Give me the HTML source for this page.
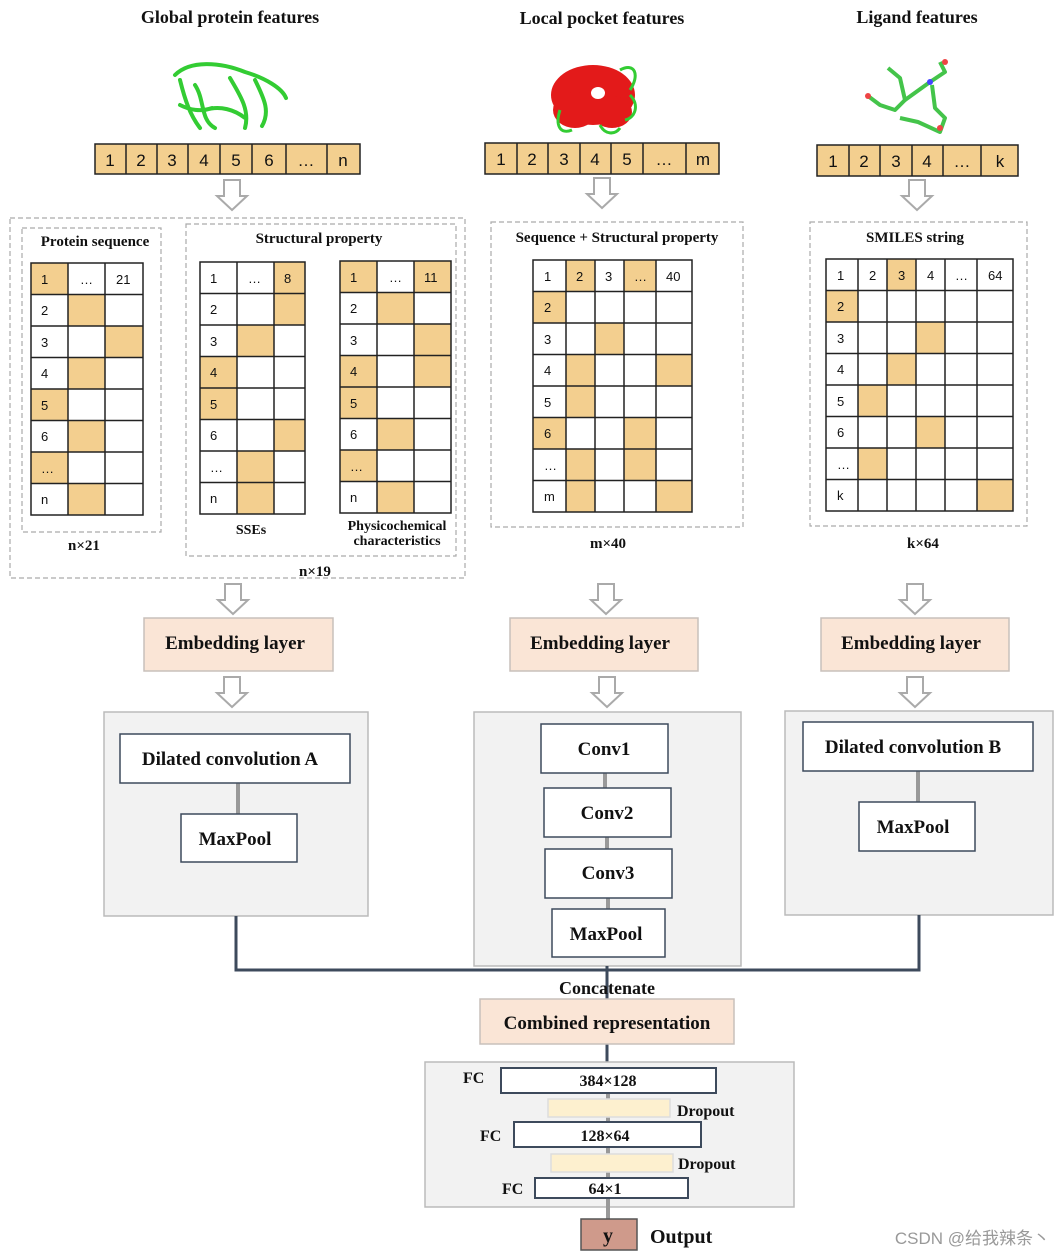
<!DOCTYPE html>
<html><head><meta charset="utf-8"><style>
html,body{margin:0;padding:0;background:#fff}
svg{display:block}
.t{font-family:"Liberation Serif",serif;font-weight:bold;fill:#111}
.n{font-family:"Liberation Sans",sans-serif;fill:#111}
</style></head><body>
<svg width="1063" height="1256" viewBox="0 0 1063 1256" xmlns="http://www.w3.org/2000/svg">
<defs>
<path id="arr" d="M-8,0 L8,0 L8,16 L15,16 L0,30 L-15,16 L-8,16 Z" fill="#fff" stroke="#aaa" stroke-width="2"/>
</defs>
<!-- titles -->
<text class="t" x="230" y="23" font-size="18" text-anchor="middle">Global protein features</text>
<text class="t" x="602" y="24" font-size="18" text-anchor="middle">Local pocket features</text>
<text class="t" x="917" y="23" font-size="18" text-anchor="middle">Ligand features</text>

<!-- protein images -->
<g fill="none" stroke="#33cc33" stroke-width="4" stroke-linecap="round">
<path d="M175,75 C190,60 220,62 245,72 C265,78 282,88 286,98"/>
<path d="M180,80 C185,100 190,115 200,128 M195,85 C205,100 200,120 215,128 M230,78 C240,95 250,110 245,128 M255,80 C265,100 270,112 262,126 M205,110 C220,105 235,110 245,118 M180,105 C190,110 200,112 212,108"/>
</g>
<g fill="#e31a1a">
<ellipse cx="593" cy="95" rx="42" ry="30"/>
<ellipse cx="575" cy="110" rx="22" ry="18"/>
<ellipse cx="612" cy="112" rx="20" ry="16"/>
</g>
<ellipse cx="598" cy="93" rx="7" ry="6" fill="#fff"/>
<g fill="none" stroke="#33cc33" stroke-width="3">
<path d="M560,110 C555,125 560,135 572,130 M620,70 C635,62 640,75 630,90 M600,125 C605,135 615,135 620,128 M630,95 C640,105 635,118 625,120"/>
</g>
<g fill="none" stroke="#44c44a" stroke-width="4" stroke-linejoin="round">
<path d="M888,68 L900,78 L905,100 L930,82 L945,72 L940,62"/>
<path d="M905,100 L895,110 L880,105 L868,96"/>
<path d="M932,85 L935,108 L945,118 L940,132 L918,122 L900,118"/>
</g>
<circle cx="868" cy="96" r="3" fill="#e44"/><circle cx="930" cy="82" r="3" fill="#44f"/><circle cx="940" cy="128" r="3" fill="#e44"/><circle cx="945" cy="62" r="3" fill="#e44"/>

<!-- top sequence boxes -->
<g fill="#f3cf8f" stroke="#222" stroke-width="1.5">
<rect x="95" y="144" width="265" height="30"/>
<rect x="485" y="143" width="234" height="31"/>
<rect x="817" y="145" width="201" height="31"/>
</g>
<g stroke="#222" stroke-width="1.5">
<path d="M126,144V174M157,144V174M188,144V174M220,144V174M252,144V174M286,144V174M327,144V174"/>
<path d="M517,143V174M548,143V174M580,143V174M611,143V174M643,143V174M686,143V174"/>
<path d="M849,145V176M880,145V176M912,145V176M943,145V176M981,145V176"/>
</g>
<g class="n" font-size="17" text-anchor="middle">
<text x="110" y="166">1</text><text x="141" y="166">2</text><text x="172" y="166">3</text><text x="204" y="166">4</text><text x="236" y="166">5</text><text x="269" y="166">6</text><text x="306" y="166">…</text><text x="343" y="166">n</text>
<text x="501" y="165">1</text><text x="532" y="165">2</text><text x="564" y="165">3</text><text x="595" y="165">4</text><text x="627" y="165">5</text><text x="664" y="165">…</text><text x="703" y="165">m</text>
<text x="833" y="167">1</text><text x="864" y="167">2</text><text x="896" y="167">3</text><text x="927" y="167">4</text><text x="962" y="167">…</text><text x="1000" y="167">k</text>
</g>

<!-- arrows -->
<use href="#arr" x="232" y="180"/><use href="#arr" x="602" y="178"/><use href="#arr" x="917" y="180"/>
<use href="#arr" x="233" y="584"/><use href="#arr" x="606" y="584"/><use href="#arr" x="915" y="584"/>
<use href="#arr" x="232" y="677"/><use href="#arr" x="607" y="677"/><use href="#arr" x="915" y="677"/>

<!-- dashed boxes -->
<g fill="none" stroke="#aaa" stroke-width="1.2" stroke-dasharray="5,3">
<rect x="10" y="218" width="455" height="360"/>
<rect x="22" y="228" width="139" height="304"/>
<rect x="186" y="224" width="270" height="332"/>
<rect x="491" y="222" width="252" height="305"/>
<rect x="810" y="222" width="217" height="304"/>
</g>
<text class="t" x="95" y="246" font-size="15" text-anchor="middle">Protein sequence</text>
<text class="t" x="319" y="243" font-size="15" text-anchor="middle">Structural property</text>
<text class="t" x="617" y="242" font-size="15" text-anchor="middle">Sequence + Structural property</text>
<text class="t" x="915" y="242" font-size="15" text-anchor="middle">SMILES string</text>
<text class="t" x="84" y="550" font-size="15" text-anchor="middle">n×21</text>
<text class="t" x="251" y="534" font-size="14" text-anchor="middle">SSEs</text>
<text class="t" x="397" y="530" font-size="14" text-anchor="middle">Physicochemical</text>
<text class="t" x="397" y="545" font-size="14" text-anchor="middle">characteristics</text>
<text class="t" x="315" y="576" font-size="15" text-anchor="middle">n×19</text>
<text class="t" x="608" y="548" font-size="15" text-anchor="middle">m×40</text>
<text class="t" x="923" y="548" font-size="15" text-anchor="middle">k×64</text>

<!-- grid1 -->
<rect x="31" y="263" width="112" height="252" fill="#fff"/>
<g fill="#f3cf8f">
<rect x="31" y="263" width="37" height="31.5"/><rect x="68" y="294.5" width="37" height="31.5"/><rect x="105" y="326" width="38" height="31.5"/><rect x="68" y="357.5" width="37" height="31.5"/><rect x="31" y="389" width="37" height="31.5"/><rect x="68" y="420.5" width="37" height="31.5"/><rect x="31" y="452" width="37" height="31.5"/><rect x="68" y="483.5" width="37" height="31.5"/>
</g>
<g fill="none" stroke="#222" stroke-width="1.5">
<rect x="31" y="263" width="112" height="252"/>
<path d="M68,263V515M105,263V515M31,294.5H143M31,326H143M31,357.5H143M31,389H143M31,420.5H143M31,452H143M31,483.5H143"/>
</g>
<g class="n" font-size="13">
<text x="41" y="284">1</text><text x="80" y="284">…</text><text x="116" y="284">21</text>
<text x="41" y="315">2</text><text x="41" y="347">3</text><text x="41" y="378">4</text><text x="41" y="410">5</text><text x="41" y="441">6</text><text x="41" y="473">…</text><text x="41" y="504">n</text>
</g>

<!-- grid2 -->
<rect x="200" y="262" width="105" height="252" fill="#fff"/>
<g fill="#f3cf8f">
<rect x="274" y="262" width="31" height="63"/><rect x="237" y="325" width="37" height="31.5"/><rect x="200" y="356.5" width="37" height="63"/><rect x="274" y="419.5" width="31" height="31.5"/><rect x="237" y="451" width="37" height="63"/>
</g>
<g fill="none" stroke="#222" stroke-width="1.5">
<rect x="200" y="262" width="105" height="252"/>
<path d="M237,262V514M274,262V514M200,293.5H305M200,325H305M200,356.5H305M200,388H305M200,419.5H305M200,451H305M200,482.5H305"/>
</g>
<g class="n" font-size="13">
<text x="210" y="283">1</text><text x="248" y="283">…</text><text x="284" y="283">8</text>
<text x="210" y="314">2</text><text x="210" y="346">3</text><text x="210" y="377">4</text><text x="210" y="409">5</text><text x="210" y="440">6</text><text x="210" y="472">…</text><text x="210" y="503">n</text>
</g>

<!-- grid3 -->
<rect x="340" y="261" width="111" height="252" fill="#fff"/>
<g fill="#f3cf8f">
<rect x="340" y="261" width="37" height="31.5"/><rect x="414" y="261" width="37" height="31.5"/><rect x="377" y="292.5" width="37" height="31.5"/><rect x="414" y="324" width="37" height="63"/><rect x="340" y="355.5" width="37" height="63"/><rect x="377" y="418.5" width="37" height="31.5"/><rect x="340" y="450" width="37" height="31.5"/><rect x="377" y="481.5" width="37" height="31.5"/>
</g>
<g fill="none" stroke="#222" stroke-width="1.5">
<rect x="340" y="261" width="111" height="252"/>
<path d="M377,261V513M414,261V513M340,292.5H451M340,324H451M340,355.5H451M340,387H451M340,418.5H451M340,450H451M340,481.5H451"/>
</g>
<g class="n" font-size="13">
<text x="350" y="282">1</text><text x="389" y="282">…</text><text x="424" y="282">11</text>
<text x="350" y="313">2</text><text x="350" y="345">3</text><text x="350" y="376">4</text><text x="350" y="408">5</text><text x="350" y="439">6</text><text x="350" y="471">…</text><text x="350" y="502">n</text>
</g>

<!-- grid4 -->
<rect x="533" y="260" width="159" height="252" fill="#fff"/>
<g fill="#f3cf8f">
<rect x="566" y="260" width="29" height="31.5"/><rect x="624" y="260" width="32" height="31.5"/><rect x="533" y="291.5" width="33" height="31.5"/><rect x="595" y="323" width="29" height="31.5"/><rect x="566" y="354.5" width="29" height="63"/><rect x="656" y="354.5" width="36" height="31.5"/><rect x="533" y="417.5" width="33" height="31.5"/><rect x="624" y="417.5" width="32" height="63"/><rect x="566" y="449" width="29" height="63"/><rect x="656" y="480.5" width="36" height="31.5"/>
</g>
<g fill="none" stroke="#222" stroke-width="1.5">
<rect x="533" y="260" width="159" height="252"/>
<path d="M566,260V512M595,260V512M624,260V512M656,260V512M533,291.5H692M533,323H692M533,354.5H692M533,386H692M533,417.5H692M533,449H692M533,480.5H692"/>
</g>
<g class="n" font-size="13">
<text x="544" y="281">1</text><text x="576" y="281">2</text><text x="605" y="281">3</text><text x="634" y="281">…</text><text x="666" y="281">40</text>
<text x="544" y="312">2</text><text x="544" y="344">3</text><text x="544" y="375">4</text><text x="544" y="407">5</text><text x="544" y="438">6</text><text x="544" y="470">…</text><text x="544" y="501">m</text>
</g>

<!-- grid5 -->
<rect x="826" y="259" width="187" height="252" fill="#fff"/>
<g fill="#f3cf8f">
<rect x="887" y="259" width="29" height="31.5"/><rect x="826" y="290.5" width="32" height="31.5"/><rect x="916" y="322" width="29" height="31.5"/><rect x="887" y="353.5" width="29" height="31.5"/><rect x="858" y="385" width="29" height="31.5"/><rect x="916" y="416.5" width="29" height="31.5"/><rect x="858" y="448" width="29" height="31.5"/><rect x="977" y="479.5" width="36" height="31.5"/>
</g>
<g fill="none" stroke="#222" stroke-width="1.5">
<rect x="826" y="259" width="187" height="252"/>
<path d="M858,259V511M887,259V511M916,259V511M945,259V511M977,259V511M826,290.5H1013M826,322H1013M826,353.5H1013M826,385H1013M826,416.5H1013M826,448H1013M826,479.5H1013"/>
</g>
<g class="n" font-size="13">
<text x="837" y="280">1</text><text x="869" y="280">2</text><text x="898" y="280">3</text><text x="927" y="280">4</text><text x="955" y="280">…</text><text x="988" y="280">64</text>
<text x="837" y="311">2</text><text x="837" y="343">3</text><text x="837" y="374">4</text><text x="837" y="406">5</text><text x="837" y="437">6</text><text x="837" y="469">…</text><text x="837" y="500">k</text>
</g>

<!-- embedding -->
<g fill="#fae5d6" stroke="#c8c0bb" stroke-width="1.5">
<rect x="144" y="618" width="189" height="53"/><rect x="510" y="618" width="188" height="53"/><rect x="821" y="618" width="188" height="53"/>
</g>
<g class="t" font-size="19" text-anchor="middle">
<text x="235" y="649">Embedding layer</text><text x="600" y="649">Embedding layer</text><text x="911" y="649">Embedding layer</text>
</g>

<!-- gray panels -->
<g fill="#f2f2f2" stroke="#bbb" stroke-width="1.5">
<rect x="104" y="712" width="264" height="204"/><rect x="474" y="712" width="267" height="254"/><rect x="785" y="711" width="268" height="204"/>
</g>
<g stroke="#999" stroke-width="4">
<path d="M238,783V814M605,773V788M607,837V849M608,898V909M918,771V802"/>
</g>
<g fill="#fff" stroke="#3d4a5c" stroke-width="1.5">
<rect x="120" y="734" width="230" height="49"/><rect x="181" y="814" width="116" height="48"/>
<rect x="541" y="724" width="127" height="49"/><rect x="544" y="788" width="127" height="49"/><rect x="545" y="849" width="127" height="49"/><rect x="552" y="909" width="113" height="48"/>
<rect x="803" y="722" width="230" height="49"/><rect x="859" y="802" width="116" height="49"/>
</g>
<g class="t" font-size="19" text-anchor="middle">
<text x="230" y="765">Dilated convolution A</text><text x="235" y="845">MaxPool</text>
<text x="604" y="755">Conv1</text><text x="607" y="819">Conv2</text><text x="608" y="879">Conv3</text><text x="606" y="940">MaxPool</text>
<text x="913" y="753">Dilated convolution B</text><text x="913" y="833">MaxPool</text>
</g>

<!-- concat lines -->
<g fill="none" stroke="#3d4a5c" stroke-width="3">
<path d="M236,916V970H919V915"/>
<path d="M607,966V1000M607,1044V1062"/>
</g>
<text class="t" x="607" y="994" font-size="18" text-anchor="middle">Concatenate</text>
<rect x="480" y="999" width="254" height="45" fill="#fae5d6" stroke="#c8c0bb" stroke-width="1.5"/>
<text class="t" x="607" y="1029" font-size="19" text-anchor="middle">Combined representation</text>

<!-- FC panel -->
<rect x="425" y="1062" width="369" height="145" fill="#f2f2f2" stroke="#bbb" stroke-width="1.5"/>
<path d="M608,1093V1220" stroke="#999" stroke-width="4"/>
<g fill="#fdf0cf" stroke="#ddd" stroke-width="1.5">
<rect x="548" y="1099" width="122" height="18"/><rect x="551" y="1154" width="122" height="18"/>
</g>
<g fill="#fff" stroke="#3d4a5c" stroke-width="2">
<rect x="501" y="1068" width="215" height="25"/><rect x="514" y="1122" width="187" height="25"/><rect x="535" y="1178" width="153" height="20"/>
</g>
<g class="t" font-size="16">
<text x="463" y="1083">FC</text><text x="480" y="1141">FC</text><text x="502" y="1194">FC</text>
<text x="677" y="1116">Dropout</text><text x="678" y="1169">Dropout</text>
<text x="608" y="1086" text-anchor="middle">384×128</text><text x="605" y="1141" text-anchor="middle">128×64</text><text x="605" y="1194" text-anchor="middle">64×1</text>
</g>
<rect x="581" y="1219" width="56" height="31" fill="#cf9a8b" stroke="#555" stroke-width="1.5"/>
<text class="t" x="608" y="1242" font-size="20" text-anchor="middle">y</text>
<text class="t" x="650" y="1243" font-size="20">Output</text>
<text x="1050" y="1244" font-size="17" text-anchor="end" fill="#999" font-family="Liberation Sans, Noto Sans CJK SC, sans-serif">CSDN @给我辣条丶</text>
</svg>
</body></html>
